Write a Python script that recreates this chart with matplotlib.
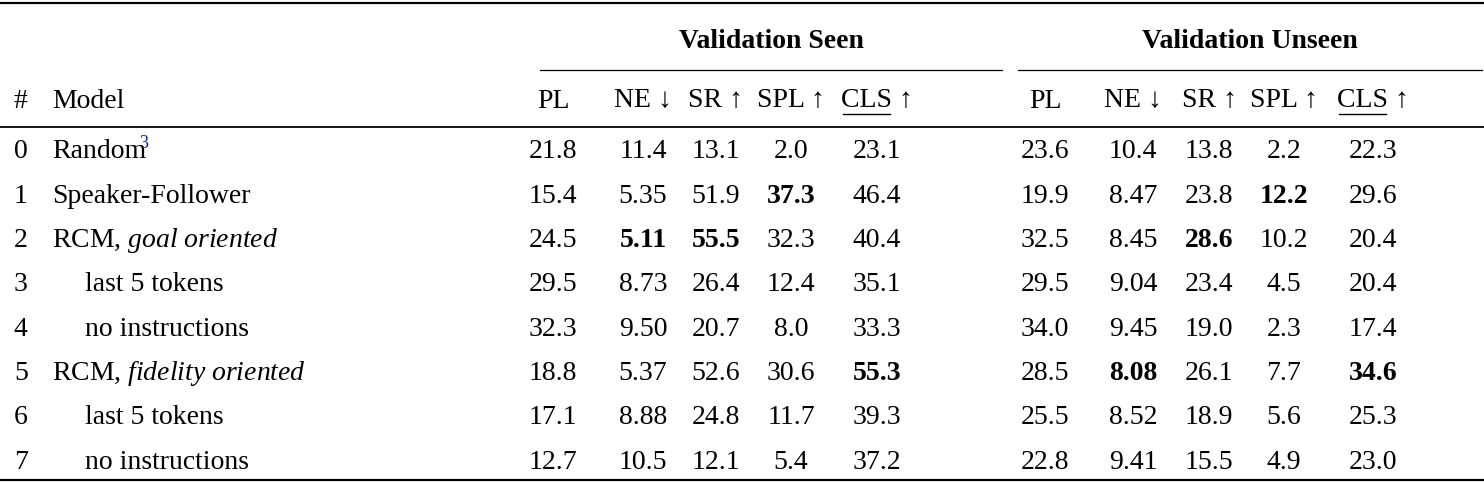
import matplotlib
matplotlib.use("Agg")
import matplotlib.pyplot as plt

ids = ["0","1","2","3","4","5","6","7"]
models = ["Random", "Speaker-Follower", "RCM, $\\it{goal\\ oriented}$",
          "last 5 tokens", "no instructions", "RCM, $\\it{fidelity\\ oriented}$",
          "last 5 tokens", "no instructions"]
indent = [False, False, False, True, True, False, True, True]
cols = ["PL", "NE ↓", "SR ↑", "SPL ↑", "CLS ↑"]
seen = [
    ["21.8","11.4","13.1","2.0","23.1"],
    ["15.4","5.35","51.9","37.3","46.4"],
    ["24.5","5.11","55.5","32.3","40.4"],
    ["29.5","8.73","26.4","12.4","35.1"],
    ["32.3","9.50","20.7","8.0","33.3"],
    ["18.8","5.37","52.6","30.6","55.3"],
    ["17.1","8.88","24.8","11.7","39.3"],
    ["12.7","10.5","12.1","5.4","37.2"],
]
unseen = [
    ["23.6","10.4","13.8","2.2","22.3"],
    ["19.9","8.47","23.8","12.2","29.6"],
    ["32.5","8.45","28.6","10.2","20.4"],
    ["29.5","9.04","23.4","4.5","20.4"],
    ["34.0","9.45","19.0","2.3","17.4"],
    ["28.5","8.08","26.1","7.7","34.6"],
    ["25.5","8.52","18.9","5.6","25.3"],
    ["22.8","9.41","15.5","4.9","23.0"],
]
bold_seen = {(1,3),(2,1),(2,2),(5,4)}
bold_unseen = {(1,3),(2,2),(5,1),(5,4)}

plt.rcParams['font.family'] = ['Liberation Serif', 'DejaVu Serif']
plt.rcParams['mathtext.fontset'] = 'custom'
plt.rcParams['mathtext.rm'] = 'Liberation Serif'
plt.rcParams['mathtext.it'] = 'Liberation Serif:italic'

W, H = 1484, 484
fig = plt.figure(figsize=(W/100, H/100), dpi=100)
ax = fig.add_axes([0, 0, 1, 1])
ax.set_xlim(0, W); ax.set_ylim(H, 0); ax.axis('off')

fs = 20
xs_seen = [553, 643, 716, 791, 877]
xs_unseen = [1045, 1133, 1209, 1284, 1373]
row_y = [152 + 44.3*i for i in range(8)]

ax.plot([0, W], [3]*2, color='black', lw=1.6)
ax.plot([0, W], [127]*2, color='black', lw=1.3)
ax.plot([0, W], [480]*2, color='black', lw=1.6)
ax.plot([540, 1002], [70]*2, color='black', lw=0.9)
ax.plot([1018, W-2], [70]*2, color='black', lw=0.9)
ax.text(771, 41, "Validation Seen", ha='center', va='center', fontsize=fs, fontweight='bold')
ax.text(1250, 41, "Validation Unseen", ha='center', va='center', fontsize=fs, fontweight='bold')

hy = 101
ax.text(14, hy, "#", ha='left', va='center', fontsize=fs)
ax.text(52, hy, "Model", ha='left', va='center', fontsize=fs)
for xs in (xs_seen, xs_unseen):
    for c, x in zip(cols, xs):
        ax.text(x, hy, c, ha='center', va='center', fontsize=fs)
    ax.plot([xs[4]-34, xs[4]+13], [hy+13]*2, color='black', lw=1)

for i in range(8):
    y = row_y[i]
    ax.text(14, y, ids[i], ha='left', va='center', fontsize=fs)
    t = ax.text(85 if indent[i] else 52, y, models[i], ha='left', va='center', fontsize=fs)
    if i == 0:
        ax.text(139, y - 9, "3", ha='left', va='center', fontsize=13, color='#1a1a8c')
    for j in range(5):
        ax.text(xs_seen[j], y, seen[i][j], ha='center', va='center', fontsize=fs,
                fontweight='bold' if (i, j) in bold_seen else 'normal')
        ax.text(xs_unseen[j], y, unseen[i][j], ha='center', va='center', fontsize=fs,
                fontweight='bold' if (i, j) in bold_unseen else 'normal')

fig.savefig("out.png", dpi=100)
